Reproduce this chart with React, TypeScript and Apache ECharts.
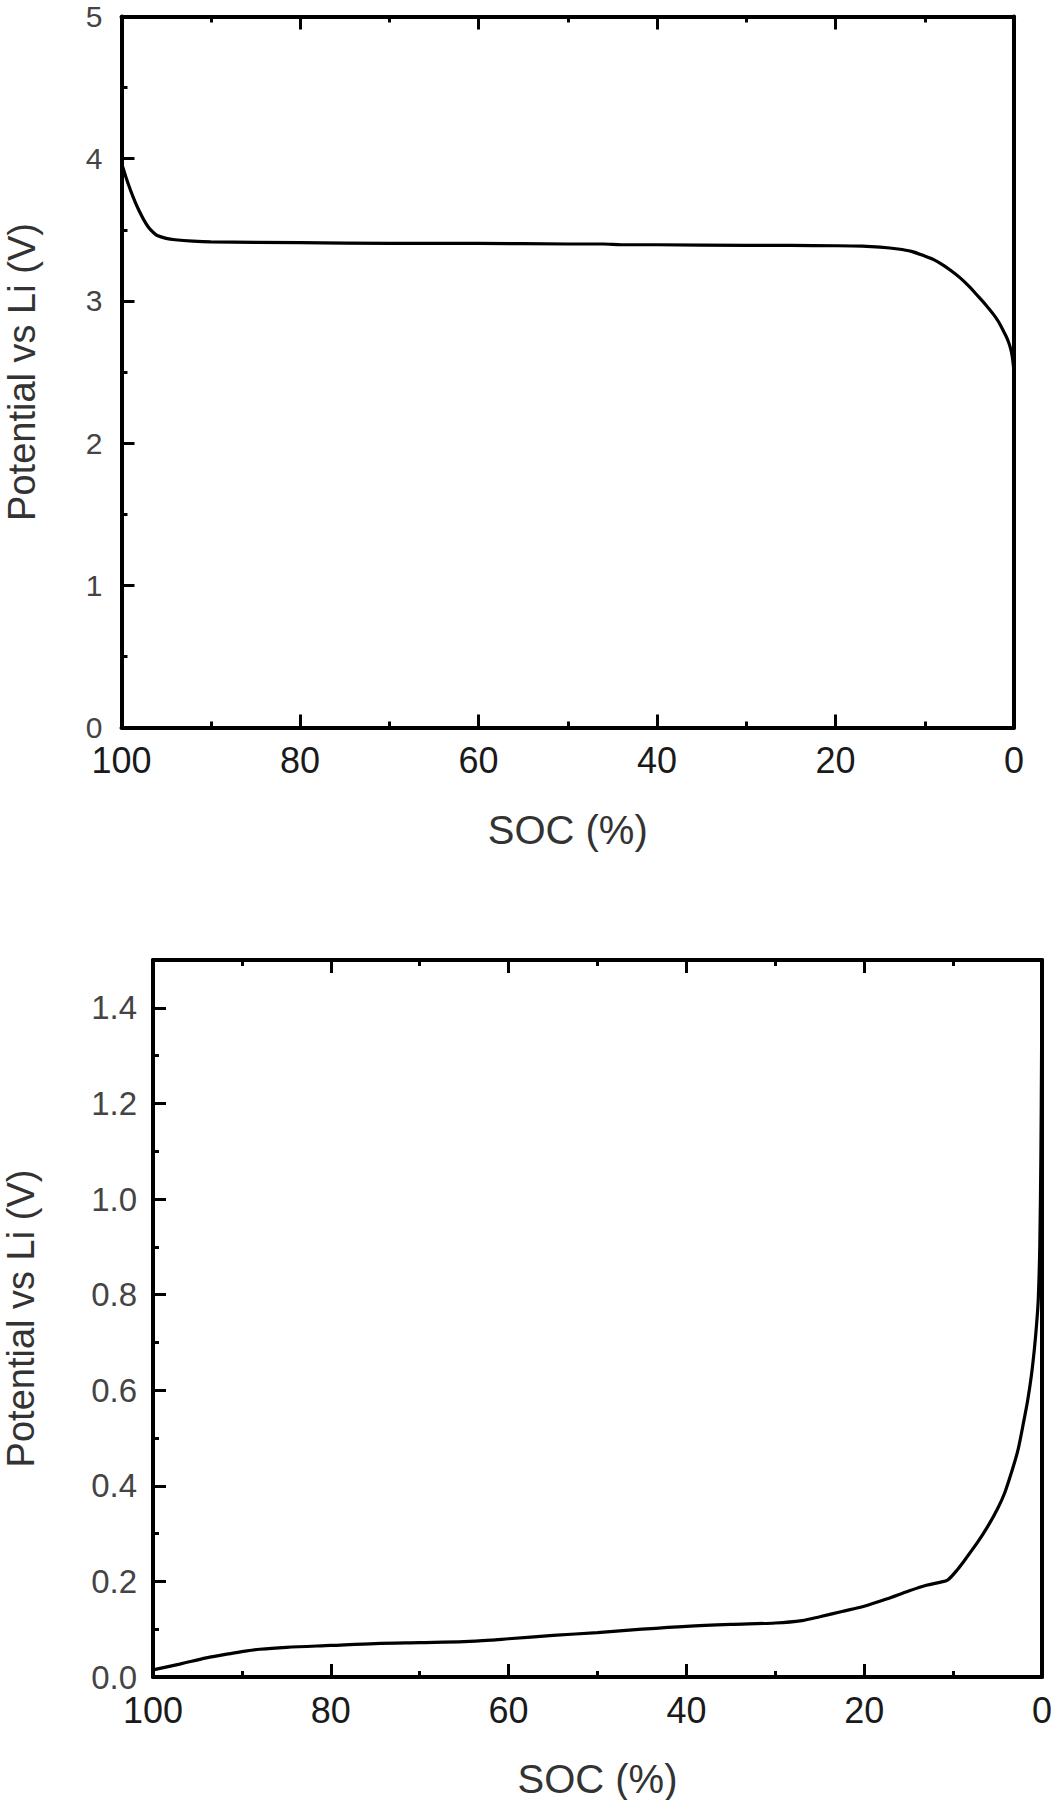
import React, { useEffect, useRef } from "react";
import * as echarts from "echarts";

// Top panel: cathode (SOC %, potential V)
const topSoc = [100, 99.5, 99, 98.5, 98, 97.5, 97, 96.5, 96, 95, 94, 92, 90, 80, 70, 60, 50, 46, 44, 40, 30, 25, 20, 17, 15, 13, 11.5, 10, 9, 7.9, 7, 6, 5, 4.2, 3.2, 2.3, 1.7, 1.2, 0.8, 0.45, 0.2, 0];
const topV = [3.97, 3.87, 3.78, 3.7, 3.63, 3.57, 3.52, 3.485, 3.46, 3.44, 3.43, 3.42, 3.415, 3.41, 3.405, 3.405, 3.4, 3.4, 3.395, 3.395, 3.39, 3.39, 3.388, 3.385, 3.378, 3.365, 3.348, 3.315, 3.29, 3.25, 3.21, 3.16, 3.1, 3.045, 2.975, 2.905, 2.85, 2.79, 2.74, 2.68, 2.61, 2.5];

// Bottom panel: anode (SOC %, potential V)
const botSoc = [100, 97, 94, 91, 90, 88, 85, 80, 75, 70, 65, 62, 60, 55, 50, 45, 40, 35, 30, 27, 25, 22.5, 20, 17.5, 15, 13, 11.5, 10.6, 9.5, 8.4, 7.2, 6.1, 5, 4.2, 3.4, 2.7, 2, 1.6, 1.2, 0.87, 0.6, 0.42, 0.25, 0.12, 0.05, 0];
const botV = [0.015, 0.027, 0.04, 0.05, 0.053, 0.058, 0.062, 0.066, 0.07, 0.072, 0.074, 0.077, 0.08, 0.087, 0.093, 0.1, 0.106, 0.11, 0.113, 0.118, 0.126, 0.137, 0.148, 0.163, 0.18, 0.192, 0.198, 0.203, 0.225, 0.252, 0.283, 0.315, 0.352, 0.385, 0.43, 0.475, 0.54, 0.58, 0.63, 0.684, 0.74, 0.79, 0.9, 1.1, 1.3, 1.5];

const xTitle = "SOC (%)";
const yTitle = "Potential vs Li (V)";
const topYTicks = { min: 0, max: 5, interval: 1 };
const botYTicks = { min: 0, max: 1.5, interval: 0.2 };
const xTicks = { min: 0, max: 100, interval: 20 };

const FONT = "'Liberation Sans', Arial, Helvetica, sans-serif";
const LINE_W = 4;

function xAxes(gridIndex: number) {
  const base = {
    gridIndex,
    type: "value" as const,
    min: xTicks.min,
    max: xTicks.max,
    interval: xTicks.interval,
    inverse: true,
    splitLine: { show: false },
    axisLine: { show: true, onZero: false, lineStyle: { color: "#000", width: LINE_W } },
    axisTick: { show: true, inside: true, length: 13, lineStyle: { color: "#000", width: 3 } },
    minorTick: { show: true, splitNumber: 2, length: 6, lineStyle: { color: "#000", width: 3 } },
  };
  return [
    {
      ...base,
      position: "bottom",
      name: xTitle,
      nameLocation: "middle",
      nameGap: 82,
      nameTextStyle: { fontFamily: FONT, fontSize: 40, color: "#333" },
      axisLabel: { show: true, margin: 15, fontFamily: FONT, fontSize: 36, color: "#1a1a1a" },
    },
    {
      ...base,
      position: "top",
      axisLabel: { show: false },
    },
  ];
}

function yAxes(
  gridIndex: number,
  ticks: { min: number; max: number; interval: number },
  labelSize: number,
  nameGap: number,
  decimals: number,
  margin: number,
  showMax: boolean
) {
  return [
    {
      gridIndex,
      type: "value" as const,
      position: "left",
      min: ticks.min,
      max: ticks.max,
      interval: ticks.interval,
      name: yTitle,
      nameLocation: "middle",
      nameRotate: 90,
      nameGap,
      nameTextStyle: { fontFamily: FONT, fontSize: 38, color: "#333" },
      splitLine: { show: false },
      axisLine: { show: true, onZero: false, lineStyle: { color: "#000", width: LINE_W } },
      axisTick: { show: true, inside: true, length: 13, lineStyle: { color: "#000", width: 3 } },
      minorTick: { show: true, splitNumber: 2, length: 6, lineStyle: { color: "#000", width: 3 } },
      axisLabel: {
        show: true,
        margin,
        showMaxLabel: showMax,
        fontFamily: FONT,
        fontSize: labelSize,
        color: "#444",
        formatter: (v: number) => v.toFixed(decimals),
      },
    },
    {
      gridIndex,
      type: "value" as const,
      position: "right",
      min: ticks.min,
      max: ticks.max,
      interval: ticks.interval,
      splitLine: { show: false },
      axisLine: { show: true, onZero: false, lineStyle: { color: "#000", width: LINE_W } },
      axisTick: { show: false },
      axisLabel: { show: false },
    },
  ];
}

export default function App() {
  const ref = useRef<HTMLDivElement>(null);
  useEffect(() => {
    if (!ref.current) return;
    const chart = echarts.init(ref.current, undefined, { renderer: "svg" });
    const option = {
      animation: false,
      backgroundColor: "#fff",
      grid: [
        { left: 121.5, top: 16.5, width: 892.5, height: 711, containLabel: false, outerBoundsMode: "none" },
        { left: 153, top: 960, width: 889, height: 717, containLabel: false, outerBoundsMode: "none" },
      ],
      xAxis: [...xAxes(0), ...xAxes(1)],
      yAxis: [
        ...yAxes(0, topYTicks, 30, 81, 0, 19, true),
        ...yAxes(1, botYTicks, 33, 113, 1, 16, false),
      ],
      series: [
        {
          type: "line",
          xAxisIndex: 0,
          yAxisIndex: 0,
          data: topSoc.map((s, i) => [s, topV[i]]),
          showSymbol: false,
          smooth: 0.3,
          lineStyle: { color: "#000", width: 3.2 },
          clip: true,
        },
        {
          type: "line",
          xAxisIndex: 2,
          yAxisIndex: 2,
          data: botSoc.map((s, i) => [s, botV[i]]),
          showSymbol: false,
          smooth: 0.3,
          lineStyle: { color: "#000", width: 3.2 },
          clip: true,
        },
      ],
    };
    chart.setOption(option as any);
    return () => chart.dispose();
  }, []);
  return (
    <div
      ref={ref}
      style={{ position: "absolute", left: 0, top: 0, width: 1051, height: 1800, background: "#fff" }}
    />
  );
}
